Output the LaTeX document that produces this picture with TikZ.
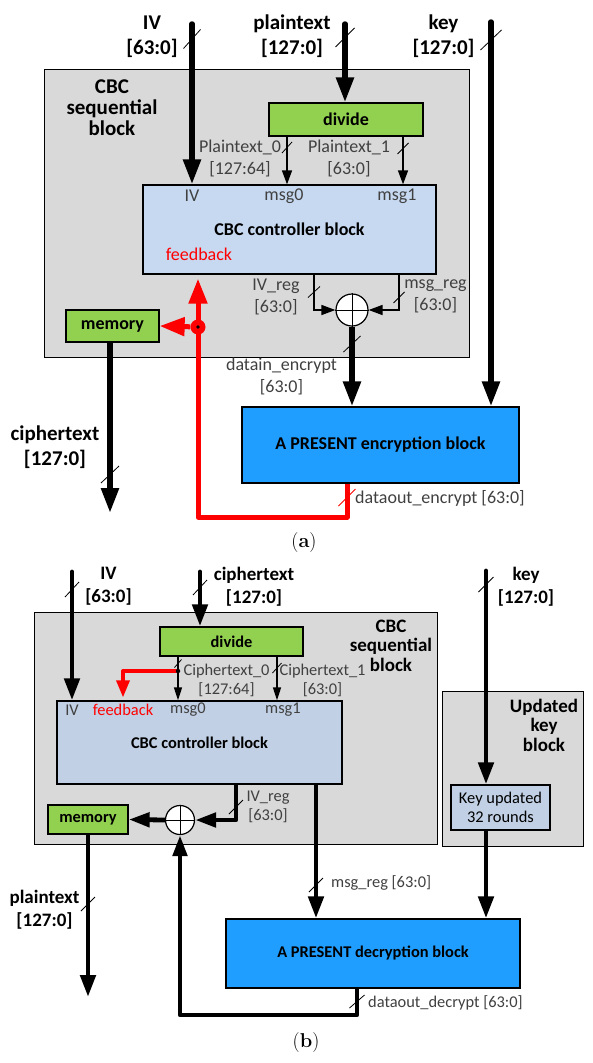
\documentclass[tikz,border=0pt]{standalone}
\usepackage{fontspec}
\newfontfamily\calib{Carlito}
\usetikzlibrary{arrows.meta}

\definecolor{boxgray}{RGB}{217,217,217}
\definecolor{divgreen}{RGB}{146,208,80}
\definecolor{ctrlblueA}{RGB}{198,217,241}
\definecolor{ctrlblueB}{RGB}{193,208,228}
\definecolor{presblue}{RGB}{31,158,255}
\definecolor{lblgray}{RGB}{64,64,64}

\newcommand{\wiretick}[5][black]{\draw[tickline,#1] (#2-#4/2,#3-#5/2) -- ++(#4,#5);}

\tikzset{
  bigtipA/.tip={Triangle[length=25pt,width=17pt]},
  smalltipA/.tip={Triangle[length=14pt,width=10pt]},
  redtipA/.tip={Triangle[length=25pt,width=18pt]},
  bigtipB/.tip={Triangle[length=22pt,width=15pt]},
  midtipB/.tip={Triangle[length=21pt,width=14pt]},
  smalltipB/.tip={Triangle[length=13pt,width=8pt]},
  redtipB/.tip={Triangle[length=17pt,width=13pt]},
  grp/.style={draw, line width=0.9pt, fill=boxgray, inner sep=0pt},
  box/.style={draw, line width=1.3pt, inner sep=0pt},
  xorcirc/.style={circle, draw, fill=white, line width=1.2pt, inner sep=0pt},
  crossline/.style={line width=0.9pt},
  wireA/.style={line width=5.5pt},
  sigA/.style={line width=1.5pt},
  redA/.style={red, line width=5pt, line join=round},
  wireB/.style={line width=4.8pt, line join=round},
  sigB/.style={line width=1.3pt},
  redB/.style={red, line width=3.4pt, line join=round},
  tickline/.style={line width=0.8pt},
  lblA/.style={font=\calib\fontsize{18}{22}\selectfont, text=lblgray, inner sep=0pt},
  boldA/.style={font=\calib\bfseries\fontsize{18}{22}\selectfont},
  outA/.style={font=\calib\bfseries\fontsize{21}{25}\selectfont, inner sep=0pt},
  grplblA/.style={font=\calib\bfseries\fontsize{21}{21}\selectfont, inner sep=0pt},
  lblB/.style={font=\calib\fontsize{16.4}{19}\selectfont, text=lblgray, inner sep=0pt},
  boldB/.style={font=\calib\bfseries\fontsize{16.4}{19}\selectfont},
  outB/.style={font=\calib\bfseries\fontsize{19}{23}\selectfont, inner sep=0pt},
  grplblB/.style={font=\calib\bfseries\fontsize{19}{19.5}\selectfont, inner sep=0pt},
  capt/.style={font=\fontsize{20}{24}\selectfont, inner sep=0pt}
}

\begin{document}
\begin{tikzpicture}[x=1pt,y=1pt]
\useasboundingbox (0,0) rectangle (593,-1063);

% (a) encryption side
\node[grp, minimum width=425pt, minimum height=288pt] (seqA) at (256.5,-213) {};
\node[grplblA, align=center] (seqAlbl) at (112,-107.5) {CBC\\sequential\\block};
\node[box, fill=divgreen, minimum width=154pt, minimum height=33pt, boldA] (divA) at (346,-119.5) {divide};
\node[box, fill=ctrlblueA, minimum width=293pt, minimum height=89pt, boldA] (ctrlA) at (289.5,-229.5) {CBC controller block};
\node[box, fill=divgreen, minimum width=93pt, minimum height=32pt, boldA] (memA) at (112.5,-326) {memory};
\node[box, fill=presblue, minimum width=277pt, minimum height=76pt, boldA] (encA) at (380.5,-445) {A PRESENT encryption block};
\node[xorcirc, minimum size=32pt] (xorA) at (352,-310) {};
\draw[crossline] (xorA.north) -- (xorA.south) (xorA.west) -- (xorA.east);

\coordinate (ivA) at (192,-24);
\coordinate (ptA) at (345,-24);
\coordinate (keyA) at (491,-22);
\coordinate (p0A) at (287,0);
\coordinate (p1A) at (403,0);
\coordinate (ivrA) at (314,0);
\coordinate (msrA) at (399,0);
\coordinate (ctA) at (110,-513);
\coordinate (fb1A) at (347,-517);
\coordinate (fb2A) at (198,-517);

\draw[wireA, line cap=round, -bigtipA] (ivA) -- (ivA |- ctrlA.north);
\draw[wireA, line cap=round, -bigtipA] (ptA) -- (ptA |- divA.north);
\draw[wireA, line cap=round, -bigtipA] (keyA) -- (keyA |- encA.north);
\draw[sigA, -smalltipA] (p0A |- divA.south) -- (p0A |- ctrlA.north);
\draw[sigA, -smalltipA] (p1A |- divA.south) -- (p1A |- ctrlA.north);
\draw[sigA, -smalltipA] (ivrA |- ctrlA.south) |- (xorA.west);
\draw[sigA, -smalltipA] (msrA |- ctrlA.south) |- (xorA.east);
\draw[wireA, -bigtipA] (xorA.south) -- (xorA |- encA.north);
\draw[wireA, -bigtipA] (ctA |- memA.south) -- (ctA);
\draw[redA, -redtipA, shorten >=4pt] (fb1A |- encA.south) -- (fb1A) -- (fb2A) -- (fb2A |- ctrlA.south);
\node[circle, fill=red, minimum size=15pt, inner sep=0pt] (fbA) at (198,-327) {};
\fill (fbA) circle (1.8pt);
\draw[redA, -redtipA] (fbA) -- (memA.east);

\wiretick{192}{-39}{17}{19}
\wiretick{345}{-37.5}{19}{19}
\wiretick{491}{-40}{21}{20}
\wiretick{287}{-147.5}{10}{11}
\wiretick{403}{-148.5}{11}{11}
\wiretick{314}{-292}{12}{11}
\wiretick{399}{-297.5}{11}{11}
\wiretick{352}{-344}{17}{16}
\wiretick[red]{347}{-497.5}{17}{17}
\wiretick{110}{-474.5}{18}{17}

\node[outA, align=center] (ivAlbl) at (152,-36.5) {IV\\{[63:0]}};
\node[outA, align=center] (ptAlbl) at (292,-36.5) {plaintext\\{[127:0]}};
\node[outA, align=center] (keyAlbl) at (443.5,-36.5) {key\\{[127:0]}};
\node[outA, align=center] (ctAlbl) at (55,-447.5) {ciphertext\\{[127:0]}};
\node[lblA, align=center] (p0Albl) at (240,-158) {Plaintext\_0\\{[127:64]}};
\node[lblA, align=center] (p1Albl) at (349,-158) {Plaintext\_1\\{[63:0]}};
\node[lblA] (ivport) at (192,-196) {IV};
\node[lblA] (m0port) at (284,-196) {msg0};
\node[lblA] (m1port) at (397,-196) {msg1};
\node[lblA, text=red] (fbAport) at (199,-254) {feedback};
\node[lblA, align=center] (ivrAlbl) at (276,-296.5) {IV\_reg\\{[63:0]}};
\node[lblA, align=center] (msrAlbl) at (435.5,-296.5) {msg\_reg\\{[63:0]}};
\node[lblA, align=center] (dinAlbl) at (281.5,-376) {datain\_encrypt\\{[63:0]}};
\node[lblA, anchor=west] (doutAlbl) at (355,-498) {dataout\_encrypt [63:0]};
\node[capt] (capA) at (304,-543) {(\textbf{a})};

% (b) decryption side
\node[grp, minimum width=403pt, minimum height=232pt] (seqB) at (235.5,-728) {};
\node[grp, minimum width=141pt, minimum height=155pt] (keyblkB) at (512.5,-768.5) {};
\node[grplblB, align=center] (seqBlbl) at (391,-645.5) {CBC\\sequential\\block};
\node[grplblB, align=center] (keyblkBlbl) at (544,-725) {Updated\\key\\block};
\node[box, fill=divgreen, minimum width=143pt, minimum height=29pt, boldB] (divB) at (231.5,-641.5) {divide};
\node[box, fill=ctrlblueB, minimum width=285pt, minimum height=83pt, boldB] (ctrlB) at (199.5,-742.5) {CBC controller block};
\node[box, fill=divgreen, minimum width=80pt, minimum height=29pt, boldB] (memB) at (88,-819.5) {memory};
\node[box, fill=presblue, minimum width=294pt, minimum height=69pt, boldB] (decB) at (373,-953.5) {A PRESENT decryption block};
\node[box, fill=ctrlblueB, minimum width=99pt, minimum height=45pt, lblB, text=black, align=center] (kupdB) at (500.5,-807.5) {Key updated\\32 rounds};
\node[xorcirc, minimum size=29pt] (xorB) at (180,-820) {};
\draw[crossline] (xorB.north) -- (xorB.south) (xorB.west) -- (xorB.east);

\coordinate (ivB) at (72,-572);
\coordinate (ctB) at (200,-572);
\coordinate (keyB) at (486,-571);
\coordinate (c0B) at (178,0);
\coordinate (c1B) at (277,0);
\coordinate (ivrB) at (236,0);
\coordinate (msrB) at (316,0);
\coordinate (ptoB) at (88,-997);
\coordinate (fb1B) at (357,-1015);
\coordinate (fb2B) at (180,-1015);
\coordinate (fbB) at (123,-671);

\draw[wireB, line cap=round, -bigtipB] (ivB) -- (ivB |- ctrlB.north);
\draw[wireB, line cap=round, -bigtipB] (ctB) -- (ctB |- divB.north);
\draw[wireB, line cap=round, -bigtipB] (keyB) -- (keyB |- kupdB.north);
\draw[wireB, -bigtipB] (keyB |- kupdB.south) -- (keyB |- decB.north);
\draw[sigB, -smalltipB] (c0B |- divB.south) -- (c0B |- ctrlB.north);
\draw[sigB, -smalltipB] (c1B |- divB.south) -- (c1B |- ctrlB.north);
\draw[redB, -redtipB, shorten >=3pt] (c0B |- fbB) -- (fbB) -- (fbB |- ctrlB.north);
\node[circle, fill=black, minimum size=4.5pt, inner sep=0pt] (c0dot) at (c0B |- fbB) {};
\draw[wireB, -midtipB] (ivrB |- ctrlB.south) |- (xorB.east);
\draw[wireB, -midtipB] (xorB.west) -- (memB.east);
\draw[wireB, -bigtipB] (ptoB |- memB.south) -- (ptoB);
\draw[wireB, -bigtipB] (msrB |- ctrlB.south) -- (msrB |- decB.north);
\draw[wireB, -midtipB] (fb1B |- decB.south) -- (fb1B) -- (fb2B) -- (xorB.south);

\wiretick{72}{-589.5}{14}{15}
\wiretick{200}{-587.5}{14}{15}
\wiretick{486}{-584.5}{15}{15}
\wiretick{178}{-663.5}{7}{8}
\wiretick{277}{-668}{9}{10}
\wiretick{236}{-807}{14}{14}
\wiretick{316}{-885}{14}{14}
\wiretick{88}{-904}{14}{14}
\wiretick{357}{-1001.5}{15}{13}

\node[outB, align=center] (ivBlbl) at (108.5,-586.5) {IV\\{[63:0]}};
\node[outB, align=center] (ctBlbl) at (254,-586.5) {ciphertext\\{[127:0]}};
\node[outB, align=center] (keyBlbl) at (526,-587) {key\\{[127:0]}};
\node[outB, align=center] (ptBlbl) at (44.5,-910) {plaintext\\{[127:0]}};
\node[lblB, align=center] (c0Blbl) at (226.5,-680.5) {Ciphertext\_0\\{[127:64]}};
\node[lblB, align=center] (c1Blbl) at (322.5,-680.5) {Ciphertext\_1\\{[63:0]}};
\node[lblB] (ivBport) at (72,-710) {IV};
\node[lblB, text=red] (fbBport) at (123,-710) {feedback};
\node[lblB] (m0Bport) at (188,-710) {msg0};
\node[lblB] (m1Bport) at (283,-710) {msg1};
\node[lblB, align=center] (ivrBlbl) at (268,-806.5) {IV\_reg\\{[63:0]}};
\node[lblB, anchor=west] (msrBlbl) at (331,-883) {msg\_reg [63:0]};
\node[lblB, anchor=west] (doutBlbl) at (368,-1003) {dataout\_decrypt [63:0]};
\node[capt] (capB) at (306,-1042) {(\textbf{b})};
\end{tikzpicture}
\end{document}
